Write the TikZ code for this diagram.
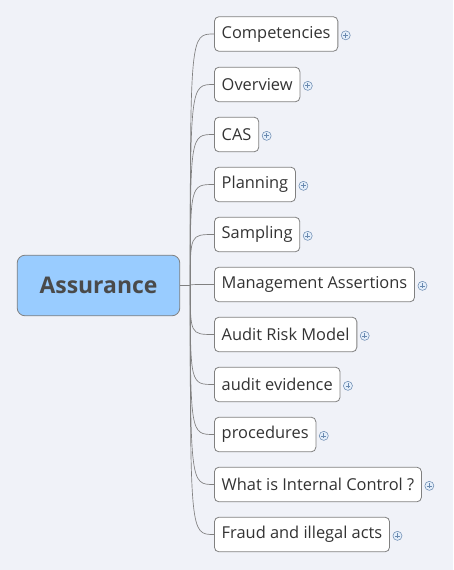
\documentclass[tikz,border=0pt]{standalone}
\usepackage{fontspec}
\setmainfont{Open Sans}
\usetikzlibrary{positioning}

\definecolor{mapbg}{HTML}{F0F2F8}
\definecolor{rootfill}{HTML}{99CCFF}
\definecolor{boxline}{HTML}{808080}
\definecolor{topictext}{HTML}{333333}
\definecolor{roottext}{HTML}{4A4A4A}
\definecolor{iconline}{HTML}{6A8AB0}
\definecolor{iconfill}{HTML}{E4EEFA}

\tikzset{
  rootbox/.style={draw=boxline, fill=rootfill, rounded corners=6pt, line width=0.6pt,
    minimum width=122pt, minimum height=45.5pt, text=roottext,
    font=\fontsize{17.2}{20}\selectfont\bfseries},
  topicbox/.style={draw=boxline, fill=white, rounded corners=3.5pt, line width=0.6pt,
    anchor=west, minimum height=26pt, inner xsep=5.5pt, text=topictext,
    font=\fontsize{12.3}{14}\selectfont},
  plusicon/.style={circle, draw=iconline, fill=iconfill, line width=0.4pt,
    inner sep=0pt, minimum size=6.8pt,
    path picture={
      \draw[iconline, line width=0.5pt]
        ([xshift=1.6pt]path picture bounding box.west) -- ([xshift=-1.6pt]path picture bounding box.east)
        ([yshift=-1.6pt]path picture bounding box.north) -- ([yshift=1.6pt]path picture bounding box.south);
    }},
  linkline/.style={draw=boxline, line width=0.5pt}
}

\begin{document}
\begin{tikzpicture}[x=0.75pt, y=-0.75pt]
\def\topicx{214}

\fill[mapbg] (0,0) rectangle (453,570);

\node[rootbox] (root) at (98.5,285.5) {Assurance};
\coordinate (hub) at ([xshift=7.5pt]root.east);

\node[topicbox] (comp) at (\topicx,34) {Competencies};
\node[topicbox] (overview) at (\topicx,84.5) {Overview};
\node[topicbox] (cas) at (\topicx,134.5) {CAS};
\node[topicbox] (planning) at (\topicx,184.5) {Planning};
\node[topicbox] (sampling) at (\topicx,234.5) {Sampling};
\node[topicbox] (assertions) at (\topicx,284.5) {Management Assertions};
\node[topicbox] (riskmodel) at (\topicx,334.5) {Audit Risk Model};
\node[topicbox] (evidence) at (\topicx,384.5) {audit evidence};
\node[topicbox] (procedures) at (\topicx,434.5) {procedures};
\node[topicbox] (control) at (\topicx,484.5) {What is Internal Control ?};
\node[topicbox] (fraud) at (\topicx,534.5) {Fraud and illegal acts};

% expand markers
\foreach \t in {comp,overview,cas,planning,sampling,assertions,riskmodel,evidence,procedures,control,fraud}
  \node[plusicon, right=2pt of \t, yshift=-1pt] (\t-plus) {};

% branches
\draw[linkline] (root.east) -- (hub);
\foreach \t in {comp,overview,cas,planning,sampling,assertions,riskmodel,evidence,procedures,control,fraud}
  \draw[linkline] (hub) .. controls (hub |- \t.west) .. (\t.west);
\end{tikzpicture}
\end{document}
